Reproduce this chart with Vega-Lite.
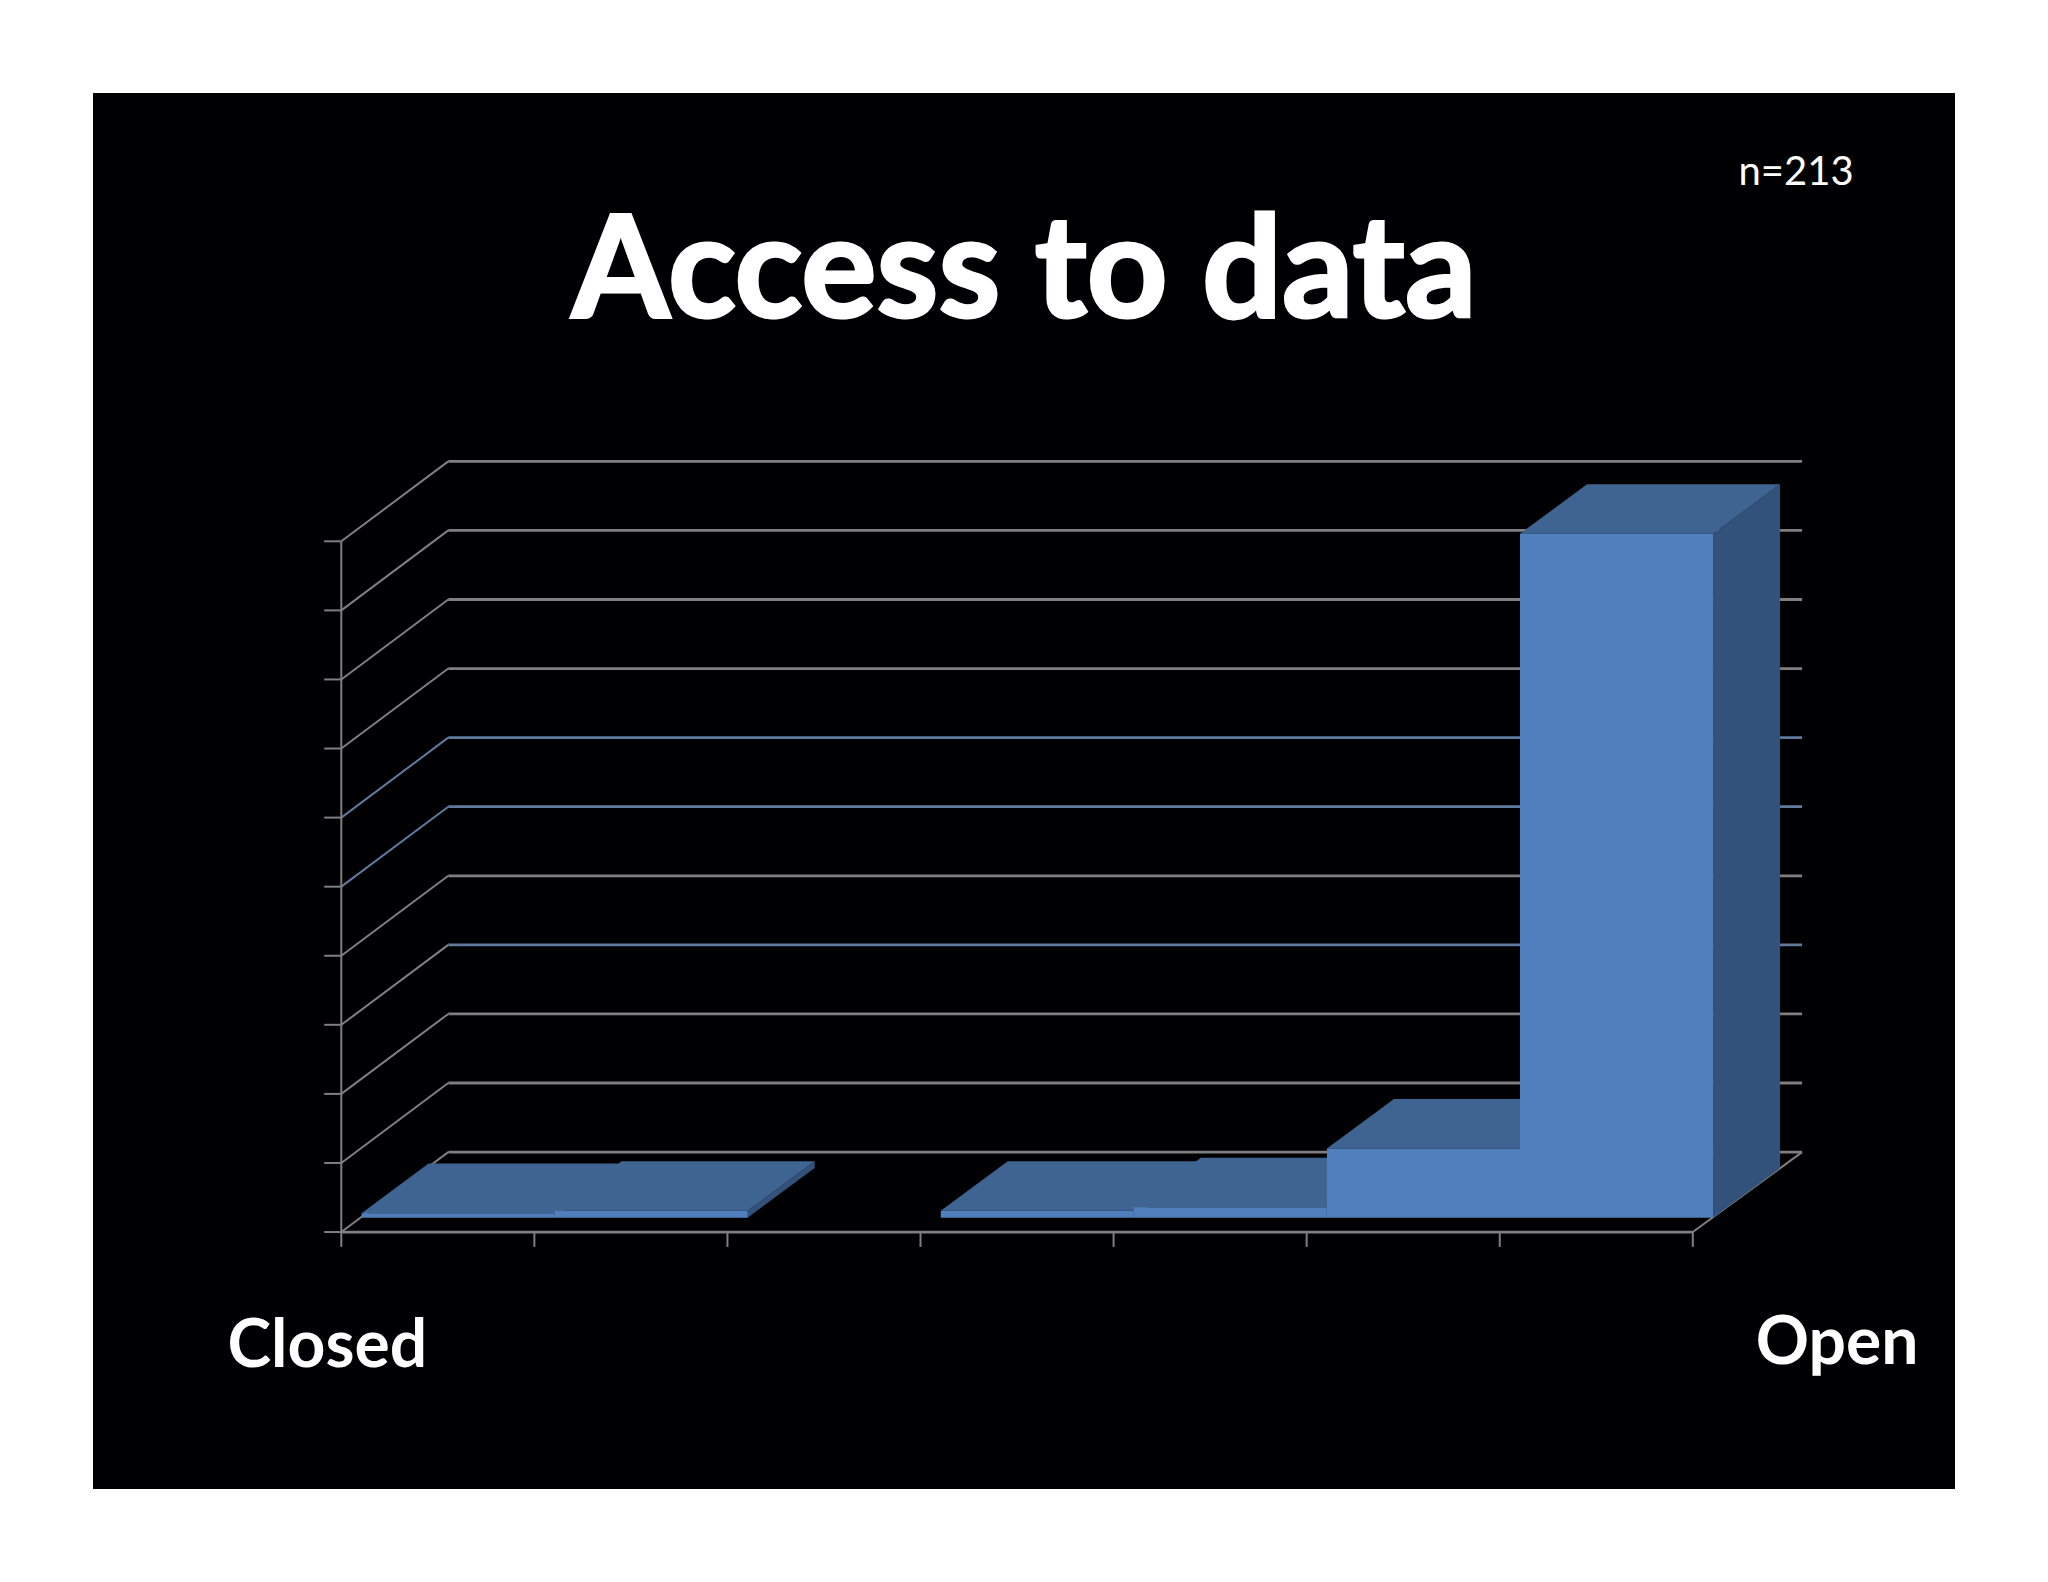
{
  "$schema": "https://vega.github.io/schema/vega-lite/v6.json",
  "width": 1862,
  "height": 1396,
  "autosize": "none",
  "padding": {"left": 93, "top": 93, "right": 93, "bottom": 93},
  "background": "#ffffff",
  "config": {"axis": {"disable": true}, "view": {"stroke": null, "fill": "#000003"}},
  "datasets": {
    "bars": [
      {"bar": 1, "count": 1.3},
      {"bar": 2, "count": 2},
      {"bar": 3, "count": 0},
      {"bar": 4, "count": 2},
      {"bar": 5, "count": 3},
      {"bar": 6, "count": 20},
      {"bar": 7, "count": 198}
    ],
    "levels": [
      {"level": 0}, {"level": 20}, {"level": 40}, {"level": 60}, {"level": 80}, {"level": 100},
      {"level": 120}, {"level": 140}, {"level": 160}, {"level": 180}, {"level": 200}
    ],
    "cats": [
      {"cat": 0}, {"cat": 1}, {"cat": 2}, {"cat": 3}, {"cat": 4}, {"cat": 5}, {"cat": 6}, {"cat": 7}
    ]
  },
  "layer": [
    {
      "data": {"name": "levels"},
      "transform": [{"calculate": "datum.level + 23.15", "as": "back"}],
      "mark": {"type": "rule", "strokeWidth": 2.8},
      "encoding": {
        "x": {"datum": 0.554, "type": "quantitative", "scale": {"domain": [-1.286, 8.358], "nice": false, "zero": false}},
        "x2": {"datum": 7.566},
        "y": {"field": "back", "type": "quantitative", "scale": {"domain": [-74.4, 329.8], "nice": false, "zero": false}},
        "color": {
          "condition": {"test": "indexof([60, 100, 120], datum.level) >= 0", "value": "#5f7a9c"},
          "value": "#7f7f7f"
        }
      }
    },
    {
      "data": {"name": "levels"},
      "transform": [{"calculate": "datum.level + 23.15", "as": "back"}],
      "mark": {"type": "rule", "strokeWidth": 2},
      "encoding": {
        "x": {"datum": 0, "type": "quantitative"},
        "x2": {"datum": 0.554},
        "y": {"field": "level", "type": "quantitative"},
        "y2": {"field": "back"},
        "color": {
          "condition": {"test": "indexof([100, 120], datum.level) >= 0", "value": "#5f7a9c"},
          "value": "#7f7f7f"
        }
      }
    },
    {
      "data": {"name": "levels"},
      "mark": {"type": "rule", "strokeWidth": 2, "color": "#7f7f7f"},
      "encoding": {
        "x": {"datum": -0.0885, "type": "quantitative"},
        "x2": {"datum": 0},
        "y": {"field": "level", "type": "quantitative"}
      }
    },
    {
      "data": {"name": "cats"},
      "mark": {"type": "rule", "strokeWidth": 2, "color": "#7f7f7f"},
      "encoding": {
        "x": {"field": "cat", "type": "quantitative"},
        "y": {"datum": -4.3, "type": "quantitative"},
        "y2": {"datum": 0}
      }
    },
    {
      "data": {"values": [{"name": "wall"}]},
      "mark": {"type": "rule", "strokeWidth": 2, "color": "#7f7f7f"},
      "encoding": {
        "x": {"datum": 0, "type": "quantitative"},
        "y": {"datum": 0, "type": "quantitative"},
        "y2": {"datum": 200}
      }
    },
    {
      "data": {"values": [{"name": "floor front"}]},
      "mark": {"type": "rule", "strokeWidth": 2.8, "color": "#7f7f7f"},
      "encoding": {
        "x": {"datum": 0, "type": "quantitative"},
        "x2": {"datum": 7},
        "y": {"datum": 0, "type": "quantitative"}
      }
    },
    {
      "data": {"values": [{"name": "floor side"}]},
      "mark": {"type": "rule", "strokeWidth": 2, "color": "#7f7f7f"},
      "encoding": {
        "x": {"datum": 7, "type": "quantitative"},
        "x2": {"datum": 7.566},
        "y": {"datum": 0, "type": "quantitative"},
        "y2": {"datum": 23.15}
      }
    },
    {
      "data": {"name": "bars"},
      "transform": [
        {"filter": "datum.count > 0"},
        {"calculate": "[0, 1]", "as": "d"},
        {"flatten": ["d"]},
        {"calculate": "datum.bar + 0.105 + 0.347 * datum.d", "as": "xs"},
        {"calculate": "4.17 + 14.35 * datum.d", "as": "lo"},
        {"calculate": "datum.count + 4.17 + 14.35 * datum.d", "as": "hi"}
      ],
      "mark": {"type": "area", "color": "#33527b", "orient": "vertical"},
      "encoding": {
        "x": {"field": "xs", "type": "quantitative"},
        "y": {"field": "lo", "type": "quantitative"},
        "y2": {"field": "hi"},
        "detail": {"field": "bar"}
      }
    },
    {
      "data": {"name": "bars"},
      "transform": [
        {"filter": "datum.count > 0"},
        {"calculate": "[0, 1]", "as": "d"},
        {"flatten": ["d"]},
        {"calculate": "datum.bar - 1 + 0.105 + 0.347 * datum.d", "as": "xa"},
        {"calculate": "datum.bar + 0.105 + 0.347 * datum.d", "as": "xb"},
        {"calculate": "datum.count + 4.17 + 14.35 * datum.d", "as": "hi"}
      ],
      "mark": {"type": "area", "color": "#3f6491", "orient": "horizontal"},
      "encoding": {
        "y": {"field": "hi", "type": "quantitative"},
        "x": {"field": "xa", "type": "quantitative"},
        "x2": {"field": "xb"},
        "detail": {"field": "bar"}
      }
    },
    {
      "data": {"name": "bars"},
      "transform": [
        {"filter": "datum.count > 0"},
        {"calculate": "datum.bar - 1 + 0.105", "as": "xa"},
        {"calculate": "datum.bar + 0.105", "as": "xb"},
        {"calculate": "datum.count + 4.17", "as": "hi"},
        {"calculate": "4.17", "as": "lo"}
      ],
      "mark": {"type": "rect", "color": "#4f80bd"},
      "encoding": {
        "x": {"field": "xa", "type": "quantitative"},
        "x2": {"field": "xb"},
        "y": {"field": "lo", "type": "quantitative"},
        "y2": {"field": "hi"}
      }
    },
    {
      "data": {"values": [{"label": "Access to data"}]},
      "mark": {"type": "text", "font": "Lato", "fontWeight": "bold", "fontSize": 141, "color": "#ffffff", "stroke": "#ffffff", "strokeWidth": 3, "align": "center", "baseline": "alphabetic"},
      "encoding": {
        "x": {"datum": 3.537, "type": "quantitative"},
        "y": {"datum": 264.8, "type": "quantitative"},
        "text": {"field": "label"}
      }
    },
    {
      "data": {"values": [{"label": "n=213"}]},
      "mark": {"type": "text", "font": "Lato", "fontSize": 40, "color": "#ffffff", "align": "center", "baseline": "alphabetic"},
      "encoding": {
        "x": {"datum": 7.535, "type": "quantitative"},
        "y": {"datum": 303.2, "type": "quantitative"},
        "text": {"field": "label"}
      }
    },
    {
      "data": {"values": [{"label": "Closed"}]},
      "mark": {"type": "text", "font": "Lato", "fontWeight": "bold", "fontSize": 66, "color": "#ffffff", "align": "center", "baseline": "alphabetic"},
      "encoding": {
        "x": {"datum": -0.0725, "type": "quantitative"},
        "y": {"datum": -39.2, "type": "quantitative"},
        "text": {"field": "label"}
      }
    },
    {
      "data": {"values": [{"label": "Open"}]},
      "mark": {"type": "text", "font": "Lato", "fontWeight": "bold", "fontSize": 66, "color": "#ffffff", "align": "center", "baseline": "alphabetic"},
      "encoding": {
        "x": {"datum": 7.747, "type": "quantitative"},
        "y": {"datum": -38.3, "type": "quantitative"},
        "text": {"field": "label"}
      }
    }
  ]
}
